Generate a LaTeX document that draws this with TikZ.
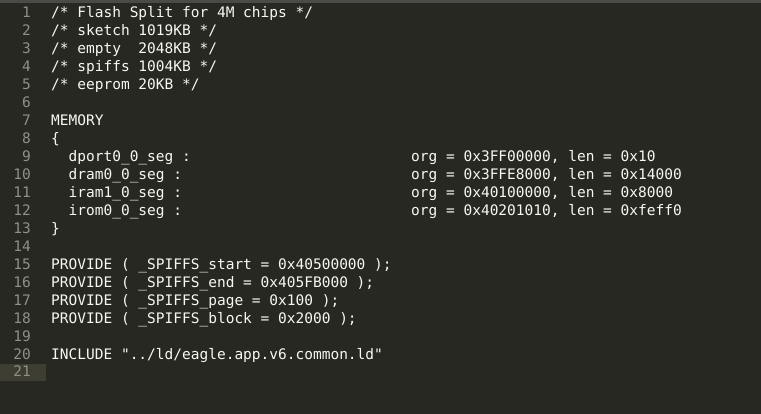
\documentclass[tikz,border=0pt]{standalone}
\usepackage{fontspec}
\setmonofont{DejaVu Sans Mono}
\definecolor{bg}{HTML}{272822}
\definecolor{fg}{HTML}{F8F8F2}
\definecolor{ln}{HTML}{8F908A}
\definecolor{hl}{HTML}{3E3D32}
\definecolor{topbar}{HTML}{4A4A46}
\begin{document}
\begin{tikzpicture}[x=1pt,y=1pt,
  code/.style={anchor=base west,inner sep=0,text=fg,font=\ttfamily\fontsize{14.5}{15}\selectfont},
  num/.style={anchor=base east,inner sep=0,text=ln,font=\ttfamily\fontsize{14.5}{15}\selectfont}]
\fill[bg] (0,0) rectangle (761,-414);
\useasboundingbox (0,0) rectangle (761,-414);
\fill[topbar] (0,0) rectangle (761,-3);
\fill[hl] (0,-364) rectangle (46,-381);
\foreach \i/\t in {1/{/* Flash Split for 4M chips */},2/{/* sketch 1019KB */},3/{/* empty\ \ 2048KB */},4/{/* spiffs 1004KB */},5/{/* eeprom 20KB */},6/{},7/{MEMORY},8/{\{},
 9/{\ \ dport0\_0\_seg :},
 10/{\ \ dram0\_0\_seg :},
 11/{\ \ iram1\_0\_seg :},
 12/{\ \ irom0\_0\_seg :},
 13/{\}},14/{},
 15/{PROVIDE ( \_SPIFFS\_start = 0x40500000 );},
 16/{PROVIDE ( \_SPIFFS\_end = 0x405FB000 );},
 17/{PROVIDE ( \_SPIFFS\_page = 0x100 );},
 18/{PROVIDE ( \_SPIFFS\_block = 0x2000 );},19/{},
 20/{INCLUDE "../ld/eagle.app.v6.common.ld"},21/{}}{
  \node[num] (n\i) at (31,{-18-(\i-1)*17.95}) {\i};
  \node[code] (c\i) at (51,{-18-(\i-1)*17.95}) {\t};
}
\foreach \i/\t in {9/{org = 0x3FF00000, len = 0x10},10/{org = 0x3FFE8000, len = 0x14000},11/{org = 0x40100000, len = 0x8000},12/{org = 0x40201010, len = 0xfeff0}}{
  \node[code] (o\i) at (411,{-18-(\i-1)*17.95}) {\t};
}
\end{tikzpicture}
\end{document}
